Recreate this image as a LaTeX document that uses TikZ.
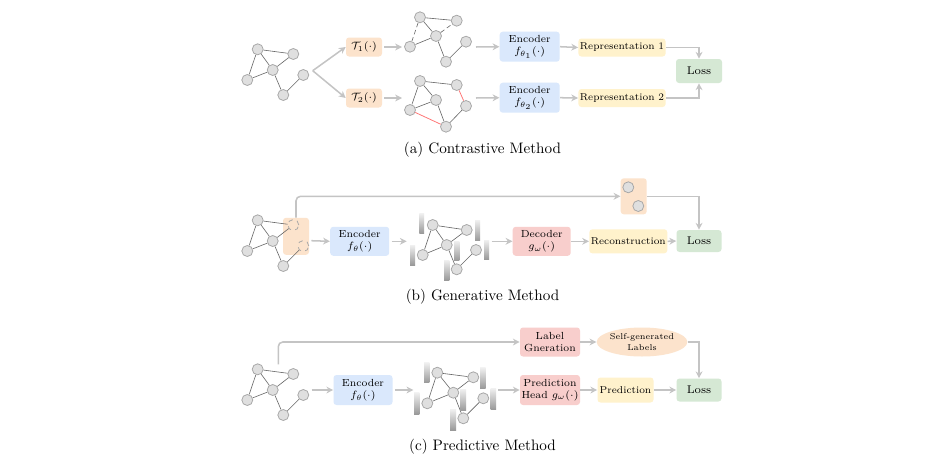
\documentclass[tikz,border=0pt]{standalone}
\usetikzlibrary{shapes.geometric,arrows.meta}
\definecolor{cOr}{HTML}{FCE3CC}
\definecolor{cBl}{HTML}{DAE8FC}
\definecolor{cYe}{HTML}{FFF2CC}
\definecolor{cGr}{HTML}{D5E8D4}
\definecolor{cRe}{HTML}{F8CECC}
\definecolor{cAr}{HTML}{C4C4C4}
\tikzset{
 gn/.style={circle,draw=gray!70,fill=gray!25,line width=0.5pt,minimum size=0.66*11pt,inner sep=0pt},
 dn/.style={dashed,fill=cOr,draw=gray!70},
 ge/.style={draw=gray!80!black,line width=0.4pt},
 box/.style={rounded corners=2pt,align=center,inner sep=1pt,font=\fontsize{6.8}{8.2}\selectfont},
 arr/.style={draw=cAr,line width=1pt,-{Stealth[length=4.5pt,width=4.5pt]}},
 captxt/.style={font=\fontsize{10}{12}\selectfont},
 smtxt/.style={font=\fontsize{6.6}{7.6}\selectfont},
}
\newcommand\mygraph[3]{%
\begin{scope}[shift={(0,#2)},name prefix=#1-]
\node[gn] (1) at (257.7,49.3){};
\node[gn,#3] (2) at (293.3,54){};
\node[gn] (3) at (272.7,70){};
\node[gn] (4) at (247.3,80){};
\node[gn,#3] (5) at (303.3,75){};
\node[gn] (6) at (283.3,95){};
\draw[ge] (1)--(2) (1)--(4) (1)--(3) (4)--(3) (3)--(2) (3)--(6) (6)--(5);
\end{scope}}
\newcommand\gbar[4]{\shade[top color=gray!12,bottom color=gray!80] (#1,#2) rectangle (#3,#4);}
\begin{document}
\begin{tikzpicture}[x=0.66pt,y=-0.66pt]
\useasboundingbox[fill=white] (0,0) rectangle (933,463);
% ---------- (a)
\mygraph{ga}{0}{}
\coordinate (fork) at (312.7,70.7);
\node[box,fill=cOr,minimum width=0.66*36pt,minimum height=0.66*19pt] (t1) at (364,47) {$\mathcal{T}_1(\cdot)$};
\node[box,fill=cOr,minimum width=0.66*36pt,minimum height=0.66*19pt] (t2) at (364,98) {$\mathcal{T}_2(\cdot)$};
\draw[arr] (fork) -- (t1.west);
\draw[arr] (fork) -- (t2.west);
\begin{scope}[name prefix=p-]
\node[gn] (1) at (420,17.3){};
\node[gn] (2) at (456.7,20.7){};
\node[gn] (3) at (436,36){};
\node[gn] (4) at (410,46.7){};
\node[gn] (5) at (466,41.7){};
\node[gn] (6) at (446,61.7){};
\draw[ge] (1)--(2) (1)--(3) (4)--(3) (3)--(6) (6)--(5);
\draw[ge,densely dashed] (1)--(4) (3)--(2);
\end{scope}
\begin{scope}[name prefix=q-]
\node[gn] (1) at (420,81){};
\node[gn] (2) at (456.7,85){};
\node[gn] (3) at (436,100){};
\node[gn] (4) at (410,110){};
\node[gn] (5) at (466,106){};
\node[gn] (6) at (446,126.7){};
\draw[ge] (1)--(2) (1)--(4) (1)--(3) (4)--(3) (3)--(6) (6)--(5);
\draw[red!55,line width=0.5pt] (2)--(5) (4)--(6);
\end{scope}
\coordinate (ga1) at (402,47); \coordinate (ga2) at (402,98);
\coordinate (gb1) at (476,47); \coordinate (gb2) at (476,98);
\draw[arr] (t1.east) ++(2,0) -- (ga1);
\draw[arr] (t2.east) ++(2,0) -- (ga2);
\node[box,fill=cBl,minimum width=0.66*60pt,minimum height=0.66*30pt] (e1) at (529.7,46.7) {Encoder\\$f_{\theta_1}(\cdot)$};
\node[box,fill=cBl,minimum width=0.66*60pt,minimum height=0.66*30pt] (e2) at (529.7,97.7) {Encoder\\$f_{\theta_2}(\cdot)$};
\draw[arr] (gb1) -- (e1.west);
\draw[arr] (gb2) -- (e2.west);
\node[box,fill=cYe,minimum width=0.66*76pt,minimum height=0.66*18pt,smtxt] (r1) at (622,47.5) {Representation 1};
\node[box,fill=cYe,minimum width=0.66*76pt,minimum height=0.66*18pt,smtxt] (r2) at (622,98) {Representation 2};
\draw[arr] (e1.east) -- (r1.west);
\draw[arr] (e2.east) -- (r2.west);
\node[box,fill=cGr,minimum width=0.66*46pt,minimum height=0.66*24pt,font=\fontsize{7.4}{8.4}\selectfont] (la) at (699,71) {Loss};
\draw[arr] (r1.east) -| (la.north);
\draw[arr] (r2.east) -| (la.south);
\node[captxt] (capa) at (482.5,150) {(a)\ Contrastive Method};
% ---------- (b)
\node[fill=cOr,rounded corners=2pt,minimum width=0.66*26pt,minimum height=0.66*37pt,inner sep=0pt] (hb) at (296,236.3) {};
\mygraph{gb}{171}{dn}
\node[fill=cOr,rounded corners=2pt,minimum width=0.66*26pt,minimum height=0.66*36pt,inner sep=0pt] (ob) at (633.7,196.3) {};
\node[gn] (o1) at (628.3,187.3) {};
\node[gn] (o2) at (638.3,206) {};
\node[box,fill=cBl,minimum width=0.66*59pt,minimum height=0.66*29pt] (eb) at (359.7,241.3) {Encoder\\$f_{\theta}(\cdot)$};
\draw[arr] (hb.east) ++(2,4.4) -- (eb.west);
\begin{scope}[name prefix=r-]
\node[gn] (1) at (432.7,225){};
\node[gn] (2) at (466.7,230){};
\node[gn] (3) at (446.7,245){};
\node[gn] (4) at (422.7,255){};
\node[gn] (5) at (476,250){};
\node[gn] (6) at (456.7,269.3){};
\draw[ge] (1)--(2) (1)--(4) (1)--(3) (4)--(3) (3)--(2) (3)--(6) (6)--(5);
\end{scope}
\gbar{419.3}{213.3}{424}{233.3}
\gbar{475}{220}{480}{240.7}
\gbar{410}{245}{415}{265}
\gbar{454}{241}{459.3}{260.7}
\gbar{484}{240}{489}{259.3}
\gbar{444}{260}{449.3}{280}
\coordinate (rb1) at (406.7,241.3); \coordinate (rb2) at (491.7,241.3);
\draw[arr] (eb.east) ++(2,0) -- (rb1);
\node[box,fill=cRe,minimum width=0.66*58pt,minimum height=0.66*29pt] (db) at (541.7,241.3) {Decoder\\$g_{\omega}(\cdot)$};
\draw[arr] (rb2) -- (db.west);
\node[box,fill=cYe,minimum width=0.66*63pt,minimum height=0.66*24pt,smtxt] (rec) at (628.3,241.3) {Reconstruction};
\draw[arr] (db.east) -- (rec.west);
\node[box,fill=cGr,minimum width=0.66*45pt,minimum height=0.66*22pt,font=\fontsize{7.4}{8.4}\selectfont] (lb) at (699,241) {Loss};
\draw[arr] (rec.east) -- (lb.west);
\draw[arr,rounded corners=3pt] (hb.north) |- (ob.west);
\draw[arr] (ob.east) -| (lb.north);
\node[captxt] (capb) at (482.5,297) {(b)\ Generative Method};
% ---------- (c)
\mygraph{gc}{320}{}
\coordinate (lc0) at (278.3,364.3);
\node[box,fill=cRe,minimum width=0.66*60pt,minimum height=0.66*29pt] (lg) at (550,342) {Label\\Gneration};
\draw[arr,rounded corners=3pt] (lc0) |- (lg.west);
\node[ellipse,fill=cOr,minimum width=0.66*72pt,minimum height=0.66*29pt,inner sep=0pt,align=center,font=\fontsize{5.6}{6.8}\selectfont] (sg) at (642,342) {Self-generated\\Labels};
\draw[arr] (lg.east) -- (sg.west);
\node[box,fill=cGr,minimum width=0.66*45pt,minimum height=0.66*23pt,font=\fontsize{7.4}{8.4}\selectfont] (lc) at (699,390) {Loss};
\draw[arr] (sg.east) -| (lc.north);
\node[box,fill=cBl,minimum width=0.66*59pt,minimum height=0.66*30pt] (ec) at (363,390) {Encoder\\$f_{\theta}(\cdot)$};
\coordinate (gc1) at (311.7,390);
\draw[arr] (gc1) -- (ec.west);
\begin{scope}[name prefix=s-]
\node[gn] (1) at (437.3,372.7){};
\node[gn] (2) at (473.3,377.3){};
\node[gn] (3) at (453.3,392.7){};
\node[gn] (4) at (427.3,403.3){};
\node[gn] (5) at (483.3,398.3){};
\node[gn] (6) at (463.3,418.3){};
\draw[ge] (1)--(2) (1)--(4) (1)--(3) (4)--(3) (3)--(2) (3)--(6) (6)--(5);
\end{scope}
\gbar{424}{362.7}{429.3}{382.7}
\gbar{480}{367.7}{485.7}{388.3}
\gbar{414}{392.7}{419.3}{414}
\gbar{460}{389}{466}{410.7}
\gbar{490.7}{388.3}{496}{409.3}
\gbar{450}{409.3}{456}{430}
\coordinate (sc1) at (413.3,390); \coordinate (sc2) at (498.3,390);
\draw[arr] (ec.east) ++(2,0) -- (sc1);
\node[box,fill=cRe,minimum width=0.66*60pt,minimum height=0.66*30pt] (ph) at (550,390) {Prediction\\Head $g_{\omega}(\cdot)$};
\draw[arr] (sc2) -- (ph.west);
\node[box,fill=cYe,minimum width=0.66*56pt,minimum height=0.66*25pt,smtxt] (pr) at (625.5,390) {Prediction};
\draw[arr] (ph.east) -- (pr.west);
\draw[arr] (pr.east) -- (lc.west);
\node[captxt] (capc) at (482.5,447) {(c)\ Predictive Method};
\end{tikzpicture}
\end{document}
